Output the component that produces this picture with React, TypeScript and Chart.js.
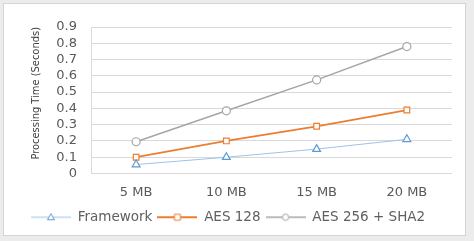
import React, { useEffect, useRef } from "react";
import { Chart, registerables } from "chart.js";

Chart.register(...registerables);

const categories = ["5 MB", "10 MB", "15 MB", "20 MB"];
const frameworkValues = [0.055, 0.1, 0.15, 0.21];
const aes128Values = [0.1, 0.2, 0.29, 0.39];
const aes256Values = [0.195, 0.385, 0.575, 0.78];
const yTicks = [0, 0.1, 0.2, 0.3, 0.4, 0.5, 0.6, 0.7, 0.8, 0.9];

function legendIcon(kind: string, lineColor: string, markerColor: string, lw: number) {
  const c = document.createElement("canvas");
  c.width = 40;
  c.height = 12;
  const ctx = c.getContext("2d")!;
  ctx.strokeStyle = lineColor;
  ctx.lineWidth = lw;
  ctx.beginPath();
  ctx.moveTo(0, 6);
  ctx.lineTo(40, 6);
  ctx.stroke();
  ctx.fillStyle = "#fff";
  ctx.strokeStyle = markerColor;
  ctx.lineWidth = 1;
  ctx.beginPath();
  if (kind === "triangle") {
    ctx.moveTo(20, 2.5);
    ctx.lineTo(23.5, 8.5);
    ctx.lineTo(16.5, 8.5);
    ctx.closePath();
  } else if (kind === "rect") {
    ctx.rect(17, 3, 6, 6);
  } else {
    ctx.arc(20, 6, 3.2, 0, Math.PI * 2);
  }
  ctx.fill();
  ctx.stroke();
  return c;
}

const FONT = '"DejaVu Sans", "Liberation Sans", sans-serif';
const NARROW = '"DejaVu Sans Condensed", "Liberation Sans Narrow", "Roboto Condensed", sans-serif';

export default function App() {
  const ref = useRef<HTMLCanvasElement>(null);
  useEffect(() => {
    document.body.style.margin = "0";
    const icons = [
      legendIcon("triangle", "#9dc3e6", "#5b9bd5", 1),
      legendIcon("rect", "#ed7d31", "#ed7d31", 1.8),
      legendIcon("circle", "#a5a5a5", "#a5a5a5", 1.5),
    ];
    const chart = new Chart(ref.current!, {
      type: "line",
      data: {
        labels: categories,
        datasets: [
          {
            label: "Framework",
            data: frameworkValues,
            borderColor: "#9dc3e6",
            borderWidth: 1,
            pointStyle: "triangle",
            pointRadius: 4.5,
            pointBorderColor: "#5b9bd5",
            pointBackgroundColor: "#fff",
            pointBorderWidth: 1.2,
          },
          {
            label: "AES 128",
            data: aes128Values,
            borderColor: "#ed7d31",
            borderWidth: 1.8,
            pointStyle: "rect",
            pointRadius: 4,
            pointBorderColor: "#ed7d31",
            pointBackgroundColor: "#fff",
            pointBorderWidth: 1.2,
          },
          {
            label: "AES 256 + SHA2",
            data: aes256Values,
            borderColor: "#a5a5a5",
            borderWidth: 1.5,
            pointStyle: "circle",
            pointRadius: 4,
            pointBorderColor: "#a5a5a5",
            pointBackgroundColor: "#fff",
            pointBorderWidth: 1.2,
          },
        ],
      },
      options: {
        animation: false,
        responsive: false,
        maintainAspectRatio: false,
        layout: { padding: { top: 23, right: 13, bottom: 1, left: 0 } },
        plugins: {
          tooltip: { enabled: false },
          legend: {
            position: "bottom",
            labels: {
              usePointStyle: true,
              pointStyleWidth: 40,
              boxHeight: 12,
              padding: 5,
              color: "#606060",
              font: { family: FONT, size: 13.5 },
              generateLabels: (ch: any) =>
                ch.data.datasets.map((ds: any, i: number) => ({
                  text: ds.label,
                  pointStyle: icons[i],
                  fillStyle: "#fff",
                  strokeStyle: ds.borderColor,
                  lineWidth: 0,
                  hidden: false,
                  datasetIndex: i,
                  fontColor: "#606060",
                })),
            },
          },
        },
        scales: {
          x: {
            offset: true,
            grid: { display: false, drawTicks: false },
            border: { display: false },
            ticks: {
              color: "#595959",
              font: { family: FONT, size: 13 },
              padding: 11,
              autoSkip: false,
              maxRotation: 0,
            },
            afterFit: (s: any) => {
              s.height = 32;
            },
          },
          y: {
            min: 0,
            max: 0.9,
            afterBuildTicks: (s: any) => {
              s.ticks = yTicks.map((v) => ({ value: v }));
            },
            grid: { color: "#d9d9d9", drawTicks: false, lineWidth: 1 },
            border: { display: true, color: "#d9d9d9" },
            ticks: {
              color: "#595959",
              font: { family: FONT, size: 13 },
              padding: 14,
              autoSkip: false,
              callback: (v: any) => String(Math.round(Number(v) * 10) / 10),
            },
            title: {
              display: true,
              text: "Processing Time (Seconds)",
              align: "end",
              color: "#404040",
              font: { family: NARROW, size: 11 },
              padding: { top: 26, bottom: 0 },
            },
            afterFit: (s: any) => {
              s.width = 87;
            },
          },
        },
      },
    });
    return () => chart.destroy();
  }, []);
  return (
    <div style={{ width: 474, height: 241, background: "#ececec", position: "relative" }}>
      <div
        style={{
          position: "absolute",
          left: 3,
          top: 3,
          width: 461,
          height: 231,
          background: "#fff",
          border: "1px solid #d4d4d4",
        }}
      >
        <canvas ref={ref} width={461} height={231} />
      </div>
    </div>
  );
}
